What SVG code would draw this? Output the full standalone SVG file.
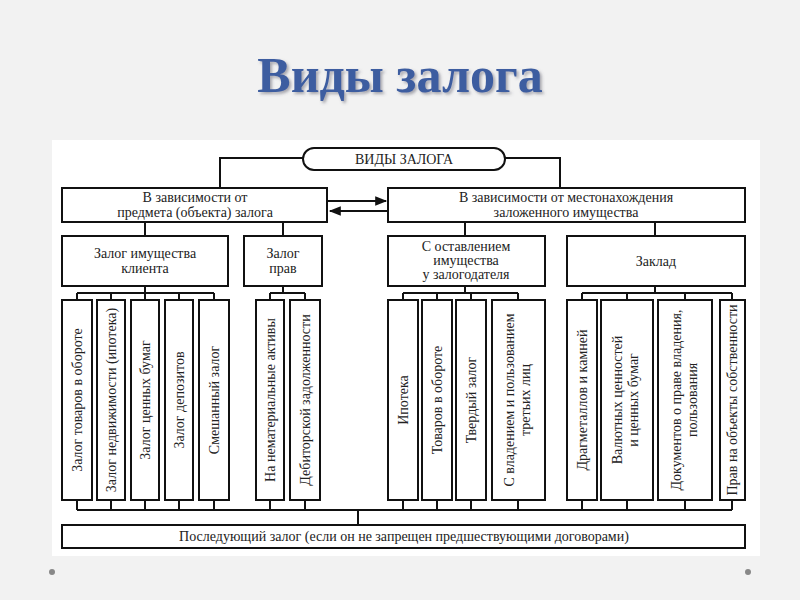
<svg xmlns="http://www.w3.org/2000/svg" width="800" height="600" viewBox="0 0 800 600">
<defs>
<style>
.b{fill:#fff;stroke:#111;stroke-width:2}
.l{fill:none;stroke:#111;stroke-width:2}
.t{font-family:"Liberation Serif",serif;font-size:14px;fill:#222;text-anchor:middle}
.v{font-family:"Liberation Serif",serif;font-size:14px;fill:#222;text-anchor:middle}
</style>
<filter id="sh" x="-10%" y="-20%" width="120%" height="140%"><feDropShadow dx="2" dy="2" stdDeviation="1.5" flood-color="#556" flood-opacity="0.5"/></filter>
<marker id="ar" viewBox="0 0 10 10" refX="9" refY="5" markerWidth="8" markerHeight="6" orient="auto"><path d="M0,1 L10,5 L0,9 Z" fill="#111"/></marker>
</defs>
<rect width="800" height="600" fill="#f2f2f2"/>
<text x="400" y="92" font-family="Liberation Serif,serif" font-size="50" font-weight="bold" fill="#3d5da0" text-anchor="middle" filter="url(#sh)">Виды залога</text>
<rect x="52" y="140" width="708" height="416" fill="#fff"/>
<g id="connectors">
<path class="l" d="M220,188 V158 H303 M505,158 H560 V188"/>
<path class="l" d="M328,201 H386" marker-end="url(#ar)"/>
<path class="l" d="M387,211 H330" marker-end="url(#ar)"/>
<path class="l" d="M145,222 V236 M283,222 V236 M465,222 V236 M655,222 V236"/>
<path class="l" d="M145,286 V293 M77,293 H214 M77,293 V300 M111,293 V300 M145,293 V300 M179,293 V300 M214,293 V300"/>
<path class="l" d="M283,286 V293 M270,293 H305 M270,293 V300 M305,293 V300"/>
<path class="l" d="M465,286 V293 M403,293 H518 M403,293 V300 M437,293 V300 M471,293 V300 M518,293 V300"/>
<path class="l" d="M655,286 V293 M582,293 H732 M582,293 V300 M627,293 V300 M685,293 V300 M732,293 V300"/>
<path class="l" d="M77,500 V510 M111,500 V510 M145,500 V510 M179,500 V510 M214,500 V510 M270,500 V510 M305,500 V510 M403,500 V510 M437,500 V510 M471,500 V510 M518,500 V510 M582,500 V510 M627,500 V510 M685,500 V510 M732,500 V510 M77,510 H732 M358,510 V525"/>
</g>
<g id="root"><rect class="b" x="303" y="148" width="202" height="22" rx="11"/><text class="t" x="404" y="164">ВИДЫ ЗАЛОГА</text></g>
<g id="byObject"><rect class="b" x="62" y="188" width="265" height="34"/><text class="t" x="195" y="202">В зависимости от</text><text class="t" x="195" y="217">предмета (объекта) залога</text></g>
<g id="byLocation"><rect class="b" x="388" y="188" width="357" height="34"/><text class="t" x="566" y="202">В зависимости от местонахождения</text><text class="t" x="566" y="217">заложенного имущества</text></g>
<g id="client"><rect class="b" x="62" y="236" width="166" height="50"/><text class="t" x="145" y="258">Залог имущества</text><text class="t" x="145" y="273">клиента</text></g>
<g id="rights"><rect class="b" x="244" y="236" width="78" height="50"/><text class="t" x="283" y="258">Залог</text><text class="t" x="283" y="273">прав</text></g>
<g id="keep"><rect class="b" x="388" y="236" width="157" height="50"/><text class="t" x="466" y="251">С оставлением</text><text class="t" x="466" y="265">имущества</text><text class="t" x="466" y="279">у залогодателя</text></g>
<g id="zaklad"><rect class="b" x="567" y="236" width="178" height="50"/><text class="t" x="656" y="266">Заклад</text></g>
<g id="n1"><rect class="b" x="62" y="300" width="30" height="200"/><text class="v" transform="translate(82,400) rotate(-90)">Залог товаров в обороте</text></g>
<g id="n2"><rect class="b" x="97" y="300" width="28" height="200"/><text class="v" transform="translate(116,400) rotate(-90)">Залог недвижимости (ипотека)</text></g>
<g id="n3"><rect class="b" x="131" y="300" width="28" height="200"/><text class="v" transform="translate(150,400) rotate(-90)">Залог ценных бумаг</text></g>
<g id="n4"><rect class="b" x="165" y="300" width="28" height="200"/><text class="v" transform="translate(184,400) rotate(-90)">Залог депозитов</text></g>
<g id="n5"><rect class="b" x="199" y="300" width="30" height="200"/><text class="v" transform="translate(219,400) rotate(-90)">Смешанный залог</text></g>
<g id="n6"><rect class="b" x="256" y="300" width="28" height="200"/><text class="v" transform="translate(275,400) rotate(-90)">На нематериальные активы</text></g>
<g id="n7"><rect class="b" x="290" y="300" width="30" height="200"/><text class="v" transform="translate(310,400) rotate(-90)">Дебиторской задолженности</text></g>
<g id="n8"><rect class="b" x="388" y="300" width="30" height="200"/><text class="v" transform="translate(408,400) rotate(-90)">Ипотека</text></g>
<g id="n9"><rect class="b" x="422" y="300" width="30" height="200"/><text class="v" transform="translate(442,400) rotate(-90)">Товаров в обороте</text></g>
<g id="n10"><rect class="b" x="456" y="300" width="30" height="200"/><text class="v" transform="translate(476,400) rotate(-90)">Твердый залог</text></g>
<g id="n11"><rect class="b" x="492" y="300" width="53" height="200"/><text class="v" transform="translate(514,400) rotate(-90)">С владением и пользованием</text><text class="v" transform="translate(530,400) rotate(-90)">третьих лиц</text></g>
<g id="n12"><rect class="b" x="567" y="300" width="30" height="200"/><text class="v" transform="translate(587,400) rotate(-90)">Драгметаллов и камней</text></g>
<g id="n13"><rect class="b" x="601" y="300" width="52" height="200"/><text class="v" transform="translate(622,400) rotate(-90)">Валютных ценностей</text><text class="v" transform="translate(638,400) rotate(-90)">и ценных бумаг</text></g>
<g id="n14"><rect class="b" x="658" y="300" width="54" height="200"/><text class="v" transform="translate(681,400) rotate(-90)">Документов о праве владения,</text><text class="v" transform="translate(697,400) rotate(-90)">пользования</text></g>
<g id="n15"><rect class="b" x="720" y="300" width="25" height="200"/><text class="v" transform="translate(737,400) rotate(-90)">Прав на объекты собственности</text></g>
<g id="bottom"><rect class="b" x="62" y="525" width="683" height="23"/><text class="t" x="404" y="541">Последующий залог (если он не запрещен предшествующими договорами)</text></g>
<circle cx="52" cy="572" r="3" fill="#888"/><circle cx="748" cy="572" r="3" fill="#888"/>
</svg>
